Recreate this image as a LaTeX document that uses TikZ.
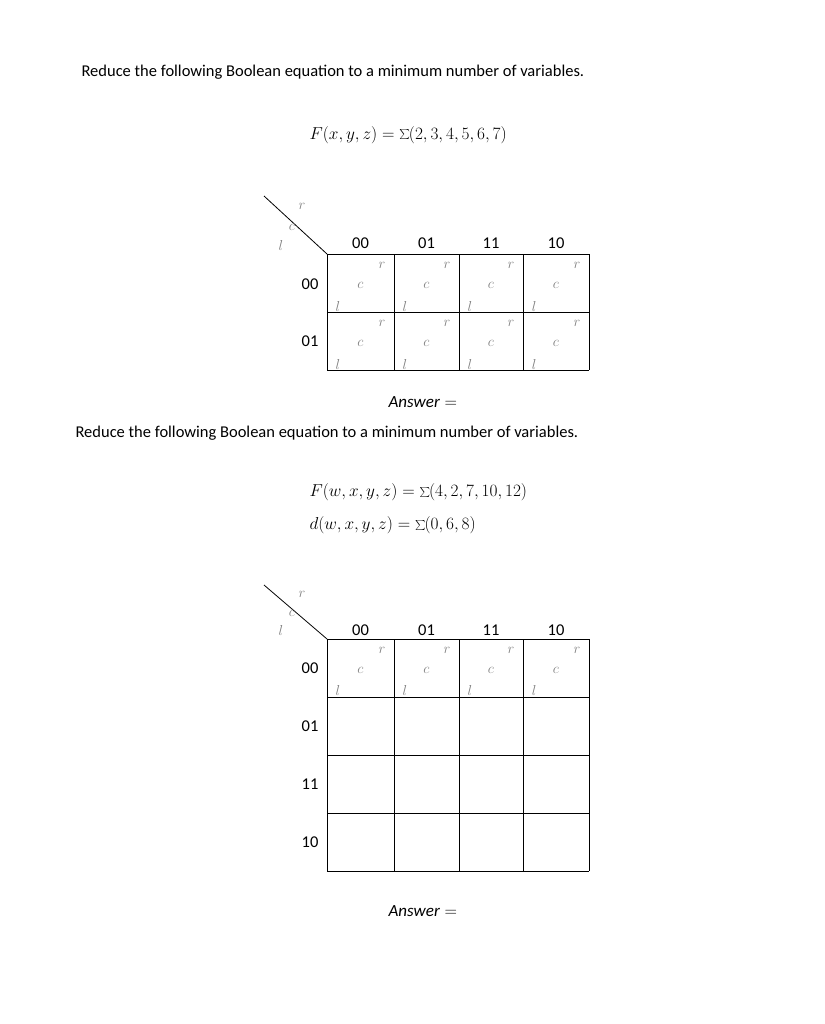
\documentclass[tikz,border=0pt]{standalone}
\usepackage{fontspec}
\setmainfont{Carlito}
\begin{document}
\begin{tikzpicture}[x=1pt,y=-1pt,
  lbl/.style={font=\fontsize{16.5}{19}\selectfont},
  gl/.style={text=gray,font=\fontsize{14}{16}\selectfont,inner sep=0},
  eq/.style={font=\fontsize{17}{20}\selectfont,anchor=west},
  cell/.style={draw,thick,minimum width=65pt,minimum height=58pt}]
\useasboundingbox (0,0) rectangle (824,1024);
\node[lbl,anchor=west] (h1) at (78,72) {Reduce the following Boolean equation to a minimum number of variables.};
\node[eq] (e1) at (306,135) {$F(x,y,z)=\textstyle\sum\hspace{-1pt}(2,3,4,5,6,7)$};
% map 1
\coordinate (d1a) at (264,196); \coordinate (d1b) at (327,254);
\draw[thick] (d1a) -- (d1b);
\node[gl] (k1r) at (302,206) {$r$};
\node[gl] (k1c) at (292,227) {$c$};
\node[gl] (k1l) at (281,245) {$l$};
\draw[thick] (327,254) grid[xstep=0,ystep=58] (589,370);
\foreach \x in {327,394,459,523,589} \draw[thick] (\x,254) -- (\x,370);
\draw[thick] (327,254) -- (589,254) (327,312) -- (589,312) (327,370) -- (589,370);
\foreach \c/\x/\w/\t in {0/327/67/00,1/394/65/01,2/459/64/11,3/523/66/10}{
  \node[lbl] (t1\c) at (\x+\w/2,243) {\t};
  \foreach \r/\y in {0/254,1/312}{
    \node[gl] (a\c\r) at (\x+\w-12,\y+11) {$r$};
    \node[gl] (b\c\r) at (\x+\w/2,\y+31) {$c$};
    \node[gl] (f\c\r) at (\x+11,\y+52) {$l$};
  }}
\node[lbl] (s10) at (310,284) {00};
\node[lbl] (s11) at (310,341) {01};
\node[eq] (ans1) at (385,402) {$\mathit{Answer}=$};
\node[lbl,anchor=west] (h2) at (72,433) {Reduce the following Boolean equation to a minimum number of variables.};
\node[eq] (e2) at (306,492) {$F(w,x,y,z)=\textstyle\sum\hspace{-1pt}(4,2,7,10,12)$};
\node[eq] (e3) at (306,525) {$d(w,x,y,z)=\textstyle\sum\hspace{-1pt}(0,6,8)$};
% map 2
\coordinate (d2a) at (264,585); \coordinate (d2b) at (327,639);
\draw[thick] (d2a) -- (d2b);
\node[gl] (m2r) at (302,594) {$r$};
\node[gl] (m2c) at (292,613) {$c$};
\node[gl] (m2l) at (281,630) {$l$};
\foreach \x in {327,394,459,523,589} \draw[thick] (\x,639) -- (\x,871);
\foreach \y in {639,697,755,813,871} \draw[thick] (327,\y) -- (589,\y);
\foreach \c/\x/\w/\t in {0/327/67/00,1/394/65/01,2/459/64/11,3/523/66/10}{
  \node[lbl] (t2\c) at (\x+\w/2,630) {\t};
  \node[gl] (p\c) at (\x+\w-12,650) {$r$};
  \node[gl] (q\c) at (\x+\w/2,670) {$c$};
  \node[gl] (u\c) at (\x+11,690) {$l$};
}
\foreach \t/\y in {00/668,01/726,11/784,10/842}{
  \node[lbl] (s2\t) at (310,\y) {\t};}
\node[eq] (ans2) at (385,911) {$\mathit{Answer}=$};
\end{tikzpicture}
\end{document}
